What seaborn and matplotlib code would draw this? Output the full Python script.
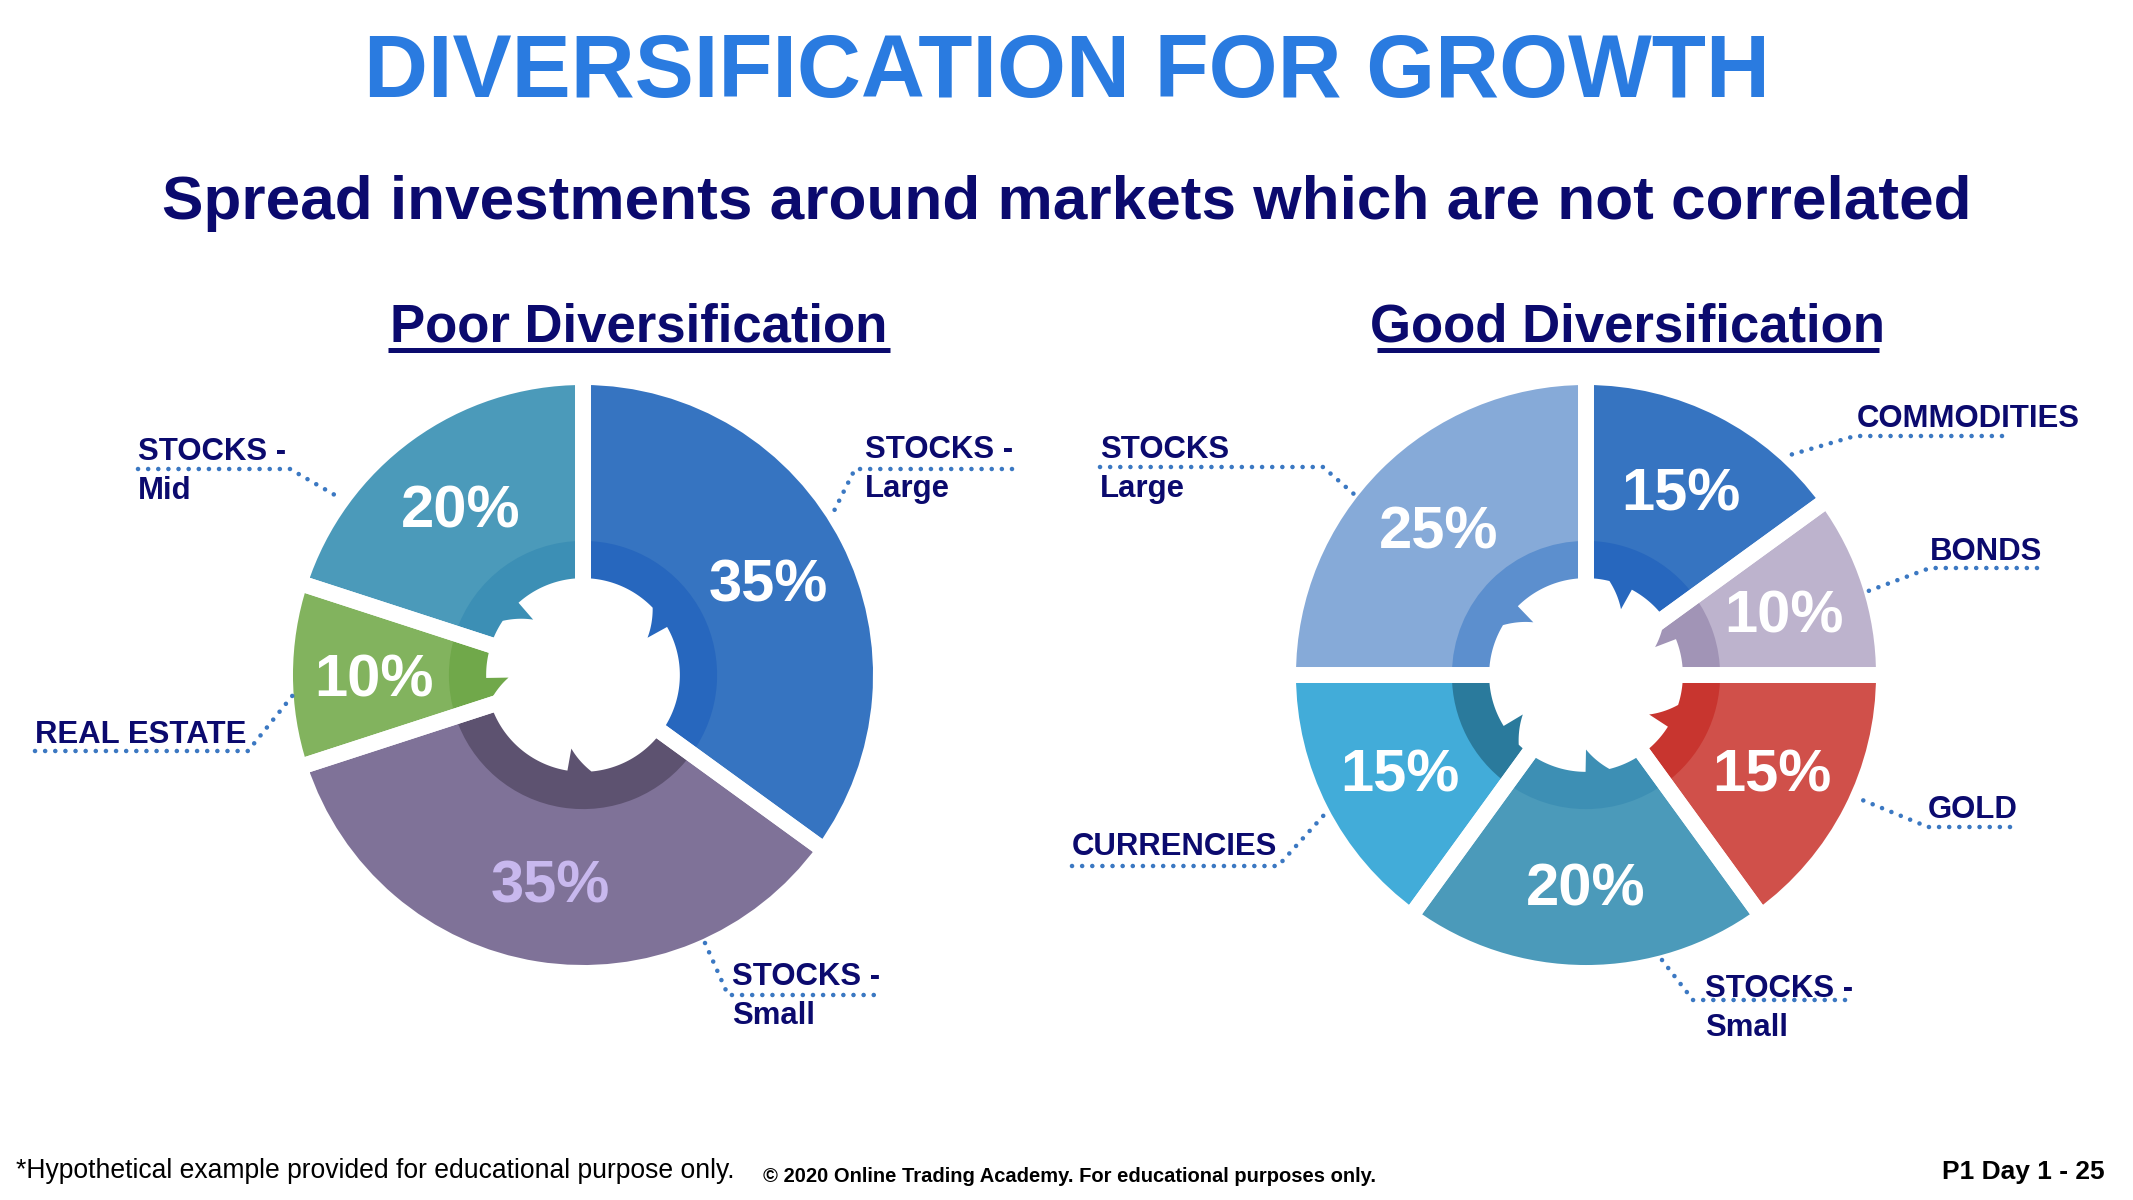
import numpy as np
import matplotlib
matplotlib.use('Agg')
import matplotlib.pyplot as plt
import seaborn as sns

# DADOS DAS DUAS PIZZAS
poor_labels = ['STOCKS -\nLarge', 'STOCKS -\nSmall', 'REAL ESTATE', 'STOCKS -\nMid']
poor_values = [35, 35, 10, 20]

good_labels = ['COMMODITIES', 'BONDS', 'GOLD', 'STOCKS -\nSmall', 'CURRENCIES', 'STOCKS\nLarge']
good_values = [15, 10, 15, 20, 15, 25]

# CORES (FATIA / ANEL INTERNO MAIS ESCURO / TEXTO DO PERCENTUAL)
poor_colors = ['#3674c1', '#7f7298', '#82b35e', '#4b9aba']
poor_inner = ['#2767be', '#5d5270', '#70a84a', '#3c8fb5']
poor_pct_colors = ['white', '#c8b8ee', 'white', 'white']

good_colors = ['#3674c1', '#bdb3cd', '#d0504a', '#4b9aba', '#42acd9', '#86aad8']
good_inner = ['#2767be', '#a194b6', '#c8352f', '#3d8fb4', '#2a7a9c', '#5c8fce']
good_pct_colors = ['white'] * 6

# POSICOES DOS ROTULOS (pixels, origem no canto superior esquerdo)
poor_label_pos = [(865, 458), (732, 985), (35, 743), (138, 460)]
poor_paths = [
    [(1012, 469), (855, 469), (832, 515)],
    [(705, 943), (728, 995), (882, 995)],
    [(35, 751), (248, 751), (293, 695)],
    [(138, 469), (290, 469), (340, 498)],
]
good_label_pos = [(1857, 427), (1930, 560), (1928, 818), (1705, 997), (1072, 855), (1100, 458)]
good_paths = [
    [(2002, 436), (1855, 436), (1783, 457)],
    [(2037, 568), (1930, 568), (1863, 593)],
    [(2010, 827), (1928, 827), (1855, 797)],
    [(1662, 960), (1693, 1000), (1855, 1000)],
    [(1072, 866), (1278, 866), (1324, 815)],
    [(1100, 467), (1323, 467), (1355, 495)],
]

sns.set_theme(style='white')
plt.rcParams['font.family'] = ['Liberation Sans', 'DejaVu Sans']

W, H = 2133, 1200
NAVY = '#0b0a6e'
DOT = '#3b78c2'

fig = plt.figure(figsize=(W / 100, H / 100), dpi=100)
fig.patch.set_facecolor('white')


def add_pie(cx, cy, values, colors, inner, pct_colors, teeth, rad=298):
    ax = fig.add_axes([(cx - 1.1 * rad) / W, (H - cy - 1.1 * rad) / H, 2.2 * rad / W, 2.2 * rad / H])
    kw = dict(startangle=90, counterclock=False)
    _, _, autotexts = ax.pie(values, colors=colors, radius=1,
                             autopct=lambda p: f'{p:.0f}%', pctdistance=0.70,
                             wedgeprops=dict(linewidth=0, edgecolor='none'),
                             textprops=dict(fontsize=43, fontweight='bold', va='center_baseline'), **kw)
    for t, c in zip(autotexts, pct_colors):
        t.set_color(c)
    ax.pie(values, colors=inner, radius=0.45, wedgeprops=dict(linewidth=0, edgecolor='none'), **kw)
    ax.pie(values, colors=['none'] * len(values), radius=1,
           wedgeprops=dict(edgecolor='white', linewidth=11.5), **kw)
    # BURACO CENTRAL COM DENTES
    th = np.linspace(-180, 180, 1441)
    r = np.full_like(th, 0.325)
    for a in teeth:
        d = (th - a) % 360
        m = d < 14
        r[m] = 0.25 + (0.325 - 0.25) * d[m] / 14
    ax.fill(r * np.cos(np.radians(th)), r * np.sin(np.radians(th)), color='white', lw=0, zorder=2)
    ax.set_xlim(-1.1, 1.1)
    ax.set_ylim(-1.1, 1.1)
    ax.set_aspect('auto')
    ax.axis('off')


add_pie(583, 675, poor_values, poor_colors, poor_inner, poor_pct_colors, [30, 132, 182, -99])
add_pie(1586, 675, good_values, good_colors, good_inner, good_pct_colors, [135, 62, 22, -32, -90, -148])

# CAMADA DE TEXTO EM PIXELS
ax0 = fig.add_axes([0, 0, 1, 1])
ax0.set_xlim(0, W)
ax0.set_ylim(H, 0)
ax0.axis('off')
ax0.patch.set_alpha(0)

ax0.text(W / 2, 97, 'DIVERSIFICATION FOR GROWTH', ha='center', va='baseline',
         fontsize=63.8, fontweight='bold', color='#2a7be0')
ax0.text(W / 2, 219, 'Spread investments around markets which are not correlated', ha='center',
         va='baseline', fontsize=44.7, fontweight='bold', color=NAVY)

for cx, title in [(639, 'Poor Diversification'), (1628, 'Good Diversification')]:
    ax0.text(cx, 342, title, ha='center', va='baseline', fontsize=38, fontweight='bold', color=NAVY)
    ax0.plot([cx - 251, cx + 251], [350, 350], color=NAVY, lw=3.6, solid_capstyle='butt')


def draw_labels(labels, positions, paths):
    for lab, (x, y), path in zip(labels, positions, paths):
        for i, line in enumerate(lab.split('\n')):
            ax0.text(x, y + 39 * i, line, ha='left', va='baseline', fontsize=22.4,
                     fontweight='bold', color=NAVY)
        xs, ys = zip(*path)
        ax0.plot(xs, ys, color=DOT, lw=3.3, linestyle=(0, (0.01, 2.2)), dash_capstyle='round')


draw_labels(poor_labels, poor_label_pos, poor_paths)
draw_labels(good_labels, good_label_pos, good_paths)

# RODAPE
ax0.text(16, 1178, '*Hypothetical example provided for educational purpose only.', ha='left',
         va='baseline', fontsize=19.1, color='black')
ax0.text(763, 1182, '\u00a9 2020 Online Trading Academy. For educational purposes only.', ha='left',
         va='baseline', fontsize=14.5, fontweight='bold', color='black')
ax0.text(2105, 1179, 'P1 Day 1 - 25', ha='right', va='baseline', fontsize=19, fontweight='bold',
         color='black')

plt.savefig('out.png', dpi=100, facecolor='white')
